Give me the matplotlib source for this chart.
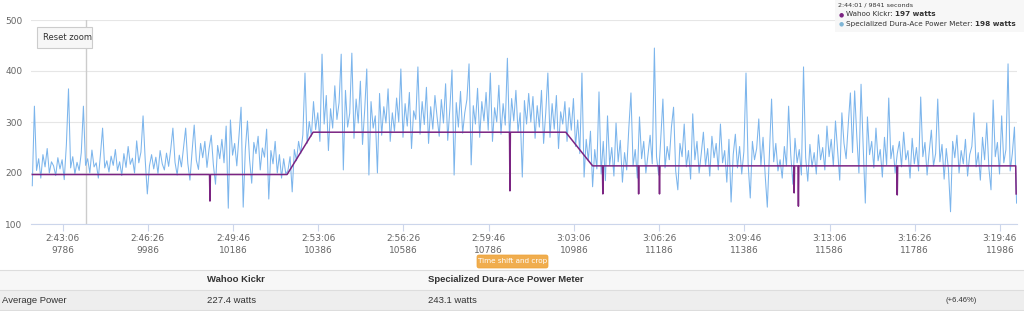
import matplotlib
matplotlib.use("Agg")
import matplotlib.pyplot as plt
from matplotlib.patches import Rectangle, FancyBboxPatch

# Specialized Dura-Ace power meter (watts), one reading every 5 s from spec_start
spec_start = 9715
spec_step = 5
spec_watts = [
    175, 331, 205, 228, 190, 236, 212, 248, 200, 222,
    214, 195, 230, 208, 226, 187, 255, 365, 210, 232,
    198, 221, 205, 240, 331, 215, 228, 200, 245, 212,
    220, 190, 236, 288, 210, 224, 202, 233, 215, 246,
    205, 222, 195, 238, 211, 252, 217, 229, 200, 263,
    220, 241, 312, 226, 159, 214, 236, 208, 231, 199,
    244, 218, 206, 239, 213, 247, 288, 221, 196, 235,
    212, 251, 288, 219, 186, 242, 294, 225, 207, 258,
    230, 262, 211, 248, 274, 216, 178, 254, 228, 266,
    220, 292, 131, 304, 235, 258, 214, 271, 329, 133,
    246, 302, 226, 180, 260, 238, 272, 206, 249, 231,
    286, 149, 244, 218, 262, 200, 236, 190, 228, 198,
    205, 232, 163, 246, 224, 262, 238, 275, 396, 258, 301, 272,
    340, 285, 318, 262, 433, 296, 352, 244, 326, 288,
    371, 305, 338, 433, 206, 362, 290, 317, 435, 268,
    345, 298, 380, 256, 322, 404, 196, 340,
    288, 312, 200, 356, 274, 330, 298, 365, 262, 318,
    282, 347, 300, 404, 270, 336, 292, 358, 248, 322,
    305, 408, 276, 340, 295, 368, 258, 330, 286, 352,
    310, 272, 344, 298, 375, 264, 326, 402, 196, 338,
    290, 360, 278, 318, 344, 414, 216, 332, 296, 366,
    270, 340, 302, 358, 284, 396, 262, 328, 300, 372,
    276, 336, 294, 425, 268, 346, 302, 362, 280, 318,
    192, 342, 296, 356,
    300, 350, 268, 332, 290, 362, 258, 318, 396, 270,
    336, 286, 352, 248, 320, 296, 340, 262, 328, 284,
    346, 252, 304, 238, 396, 192, 266, 224, 282, 173,
    246, 208, 359, 198, 262, 185, 312, 216, 250, 194,
    298, 222, 264, 182, 240, 206, 288, 357, 214, 246,
    190, 310, 228, 262, 200, 236,
    274, 218, 445, 232, 196, 268, 345, 210, 252, 226,
    290, 329, 204, 167, 258, 232, 296, 212, 244, 188,
    316, 226, 262, 200, 238, 280, 214, 248, 194, 272,
    230, 258, 206, 296, 220, 244, 182, 266, 143, 236,
    276, 210, 252, 198, 242, 396, 218, 151, 262, 226,
    248, 306, 214, 270, 196, 133, 240, 345, 222, 258, 204,
    226, 190, 252, 214, 331, 236, 178, 268, 220, 246,
    196, 408, 230, 184, 256, 212, 240, 198, 275, 226,
    250, 206, 292, 232, 266, 214, 302, 244, 186, 318,
    258, 228, 296, 357, 240, 361, 272, 200, 374, 252,
    141, 310, 236, 262, 210, 288, 224, 246, 192, 270,
    216, 347, 228, 254, 200, 238, 262, 212, 280, 226,
    244, 190, 268, 218, 250, 204, 349, 232, 260, 196,
    242, 284, 214, 238, 345, 222, 256, 188, 248, 208,
    124, 262, 230, 274, 200, 244, 218, 266, 194, 236,
    252, 318, 212, 240, 186, 270, 226, 298, 210, 167,
    343, 232, 260, 198, 312, 220, 246, 414, 204, 238,
    290, 141,
]
spec_t = [spec_start + spec_step * i for i in range(len(spec_watts))]

# Wahoo Kickr target power (ERG steps + short dropouts)
kickr_t = [9715, 10131, 10132, 10133, 10313, 10374, 10835, 10836, 10837, 10967, 11030,
           11053, 11054, 11055, 11137, 11138, 11139, 11186, 11187, 11188,
           11502, 11503, 11504, 11512, 11513, 11514, 11744, 11745, 11746, 12023, 12024]
kickr_w = [197, 197, 145, 197, 197, 280, 280, 165, 280, 280, 214,
           214, 159, 214, 214, 159, 214, 214, 159, 214,
           214, 161, 214, 214, 135, 214, 214, 157, 214, 214, 159]

tick_pos = [9786, 9986, 10186, 10386, 10586, 10786, 10986, 11186, 11386, 11586, 11786, 11986]
tick_labels = ["2:43:06\n9786", "2:46:26\n9986", "2:49:46\n10186", "2:53:06\n10386",
               "2:56:26\n10586", "2:59:46\n10786", "3:03:06\n10986", "3:06:26\n11186",
               "3:09:46\n11386", "3:13:06\n11586", "3:16:26\n11786", "3:19:46\n11986"]
y_ticks = [100, 200, 300, 400, 500]

table_cols = ["Wahoo Kickr", "Specialized Dura-Ace Power Meter"]
avg_power = ["227.4 watts", "243.1 watts"]
avg_diff = "(+6.46%)"

W, H = 1024, 311
fig = plt.figure(figsize=(W / 100, H / 100), dpi=100)

def fx(x):
    return x / W

def fy(y):
    return 1 - y / H

ax = fig.add_axes([fx(31), fy(224), fx(1017) - fx(31), fy(20) - fy(224)])
ax.plot(spec_t, spec_watts, color="#7cb5ec", lw=0.75, zorder=2)
ax.plot(kickr_t, kickr_w, color="#7b2482", lw=1.1, zorder=3)
ax.axvline(9841, color="#cccccc", lw=1, zorder=1)

ax.set_xlim(9712, 12026)
ax.set_ylim(100, 500)
ax.set_yticks(y_ticks)
ax.set_xticks(tick_pos)
ax.set_xticklabels(tick_labels, fontsize=6.5, color="#666666", linespacing=1.5)
ax.tick_params(axis="x", length=5, color="#ccd6eb", pad=2)
ax.tick_params(axis="y", length=0, labelsize=6.5, labelcolor="#666666", pad=6)
ax.grid(axis="y", color="#e6e6e6", lw=0.8)
ax.set_axisbelow(True)
for s in ["top", "left", "right"]:
    ax.spines[s].set_visible(False)
ax.spines["bottom"].set_color("#ccd6eb")

# overlay in pixel coordinates for buttons, tooltip and the stats table
ov = fig.add_axes([0, 0, 1, 1], zorder=10)
ov.set_xlim(0, W)
ov.set_ylim(H, 0)
ov.axis("off")
ov.patch.set_alpha(0)

# reset zoom button
ov.add_patch(Rectangle((37, 27), 55, 21, facecolor="#f7f7f7", edgecolor="#cccccc", lw=0.8))
ov.text(43, 37.5, "Reset zoom", fontsize=6, color="#333333", va="center")

# tooltip
ov.add_patch(Rectangle((835, 0), 189, 32, facecolor="#f7f7f7", edgecolor="none", alpha=0.9))
ov.text(838, 5, "2:44:01 / 9841 seconds", fontsize=4.6, color="#333333", va="center")
ov.text(839, 14.5, "\u25CF", fontsize=4.2, color="#7b2482", va="center")
t1 = ov.text(846, 14.5, "Wahoo Kickr: ", fontsize=5.2, color="#333333", va="center")
ov.annotate("197 watts", xy=(1, 0.5), xycoords=t1, va="center", ha="left",
            fontsize=5.2, color="#333333", weight="bold")
ov.text(839, 24, "\u25CF", fontsize=4.2, color="#7fb5d5", va="center")
t2 = ov.text(846, 24, "Specialized Dura-Ace Power Meter: ", fontsize=5.2, color="#333333", va="center")
ov.annotate("198 watts", xy=(1, 0.5), xycoords=t2, va="center", ha="left",
            fontsize=5.2, color="#333333", weight="bold")

# time shift button
ov.add_patch(FancyBboxPatch((477, 255), 71, 13, boxstyle="round,pad=0,rounding_size=2",
                            facecolor="#f0ad4e", edgecolor="#eea236", lw=0.5))
ov.text(512.5, 261.5, "Time shift and crop", fontsize=5.2, color="white", ha="center", va="center")

# stats table
ov.add_patch(Rectangle((0, 270), W, 20, facecolor="#f7f7f7", edgecolor="none"))
ov.add_patch(Rectangle((0, 290), W, 20, facecolor="#eeeeee", edgecolor="none"))
for yy in [270, 290, 310]:
    ov.plot([0, W], [yy, yy], color="#dddddd", lw=0.8)

tf = ["Liberation Sans", "DejaVu Sans"]
ov.text(207, 280, table_cols[0], fontsize=6.8, weight="bold", color="#333333", va="center", family=tf)
ov.text(428, 280, table_cols[1], fontsize=6.8, weight="bold", color="#333333", va="center", family=tf)
ov.text(2, 300.5, "Average Power", fontsize=6.8, color="#333333", va="center", family=tf)
ov.text(207, 300.5, avg_power[0], fontsize=6.8, color="#333333", va="center", family=tf)
ov.text(428, 300.5, avg_power[1], fontsize=6.8, color="#333333", va="center", family=tf)
ov.text(945, 300.5, avg_diff, fontsize=5.5, color="#333333", va="center", family=tf)

fig.savefig("out.png", dpi=100)
